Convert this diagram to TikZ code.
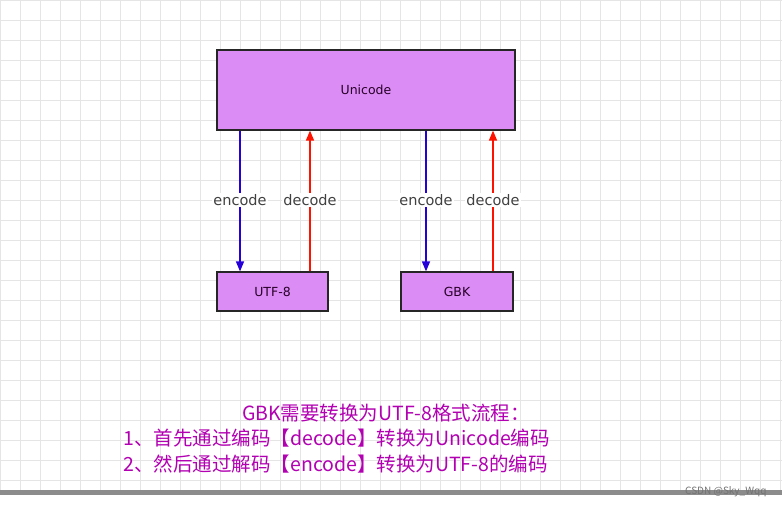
\documentclass[tikz,border=0pt]{standalone}
\usepackage{fontspec}
\setmainfont{Noto Sans CJK SC}
\newfontfamily\dvs{DejaVu Sans}
\usetikzlibrary{arrows.meta}
\begin{document}
\begin{tikzpicture}[x=1pt,y=-1pt,
  box/.style={draw=black!85,line width=1.2pt,minimum height=#1,inner sep=0pt,font=\dvs\fontsize{12.5}{14}\selectfont,text=black!70!violet},
  enc/.style={draw=blue!70!violet,line width=1.3pt,-{Triangle[width=8pt,length=10pt]},fill=blue!70!violet},
  dec/.style={draw=red!85!orange,line width=1.3pt,-{Triangle[width=8pt,length=10pt]},fill=red!85!orange},
  lab/.style={fill=white,inner sep=1pt,font=\dvs\fontsize{14.5}{16}\selectfont,text=black!75},
  note/.style={anchor=west,font=\fontsize{19.5}{22}\selectfont,text=violet!60!magenta}]
\useasboundingbox (0,0) rectangle (782,508);
\fill[white] (0,0) rectangle (782,508);
\foreach \i in {0,...,39} {\draw[black!10,line width=0.5pt] (\i*20,0) -- (\i*20,490);}
\foreach \j in {0,...,24} {\draw[black!10,line width=0.5pt] (0,\j*20) -- (782,\j*20);}
\fill[black!45] (0,490) rectangle (782,495);
\definecolor{boxc}{HTML}{DB8CF5}
\node[box=80pt,minimum width=298pt,fill=boxc] (uni) at (366,90) {Unicode};
\node[box=39pt,minimum width=111pt,fill=boxc] (utf) at (272.5,291.5) {UTF-8};
\node[box=39pt,minimum width=112pt,fill=boxc] (gbk) at (457,291.5) {GBK};
\draw[enc] (uni.south -| 240,0) -- (utf.north -| 240,0);
\draw[dec] (utf.north -| 310,0) -- (uni.south -| 310,0);
\draw[enc] (uni.south -| 426,0) -- (gbk.north -| 426,0);
\draw[dec] (gbk.north -| 493,0) -- (uni.south -| 493,0);
\node[lab] (l1) at (240,200) {encode};
\node[lab] (l2) at (310,200) {decode};
\node[lab] (l3) at (426,200) {encode};
\node[lab] (l4) at (493,200) {decode};
\node[note,anchor=center] (t0) at (386,413) {GBK需要转换为UTF-8格式流程：};
\node[note] (t1) at (120,438) {1、首先通过编码【decode】转换为Unicode编码};
\node[note] (t2) at (120,464) {2、然后通过解码【encode】转换为UTF-8的编码};
\node[font=\fontsize{10}{11}\selectfont,text=black!55,anchor=east] (wm) at (770,492) {CSDN @Sky\_Wqq};
\end{tikzpicture}
\end{document}
